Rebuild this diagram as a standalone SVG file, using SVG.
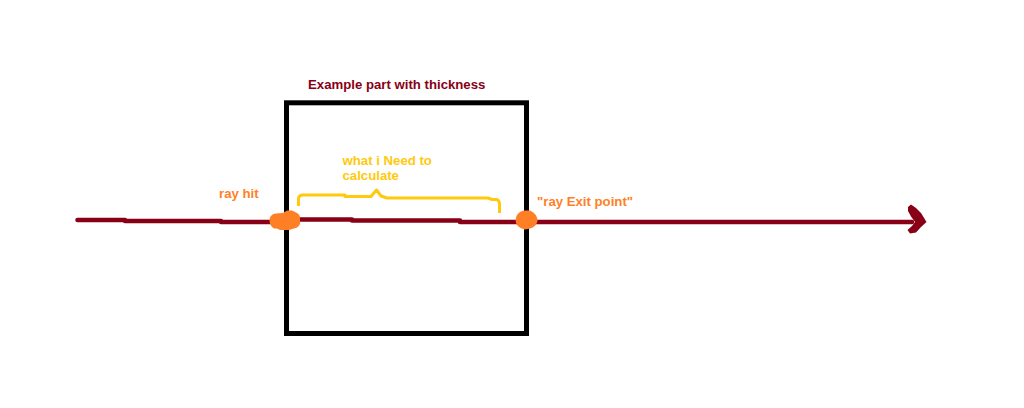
<svg xmlns="http://www.w3.org/2000/svg" width="1024" height="408" viewBox="0 0 1024 408">
<style>
.lbl{font-family:"Liberation Sans",Arial,sans-serif;font-size:13.2px;font-weight:bold}
.ray{fill:none;stroke:#880015;stroke-width:4.500;stroke-linejoin:round;stroke-linecap:round}
.dot{fill:#ff7f27}
</style>
<rect width="1024" height="408" fill="#fff"/>
<g id="part">
<rect x="286.500" y="102.800" width="240" height="230.700" fill="none" stroke="#000" stroke-width="5"/>
<text class="lbl" x="308" y="88.500" fill="#880015">Example part with thickness</text>
</g>
<g id="connectors">
<path class="ray" d="M77.500 220H125M125 221H221M221 222H280M298 219.500H352M352 220.500H460M460 222H520M530 222H912"/>
<path d="M908 207L911 204.500L916 208L921 213L926.500 222L921 227L916 232.500L910 233.500L907.500 230L912 226L915 222L911 216.500L908 211Z" fill="#880015"/>
<path d="M298.500 206V199Q298.500 195 303 195H345V196.500H371L376.500 190L381 196L387 198H488L492 199.500H497Q499.500 201 499.500 204V213" fill="none" stroke="#ffc90e" stroke-width="3" stroke-linejoin="round"/>
</g>
<g id="ray-hit">
<path class="dot" d="M269.500 220Q270 214 276 213.500L283 213L287 210.500H292L296 212.500Q300 214 300 218V224Q298 228 294 228.500L289 230H280L277 228.500H274Q269.500 226 269.500 220Z"/>
<text class="lbl" x="219" y="197.500" fill="#ff7f27">ray hit</text>
</g>
<g id="ray-exit">
<path class="dot" d="M515.500 220Q516 212 524 210.500H530Q537.500 214 537.500 221Q536 227 530 228.500L525 229.500Q516 228 515.500 220Z"/>
<text class="lbl" x="537" y="206" fill="#ff7f27">"ray Exit point"</text>
</g>
<g id="calculate">
<text class="lbl" fill="#ffc90e"><tspan x="342.500" y="165">what i Need to</tspan><tspan x="342.500" y="180">calculate</tspan></text>
</g>
</svg>
